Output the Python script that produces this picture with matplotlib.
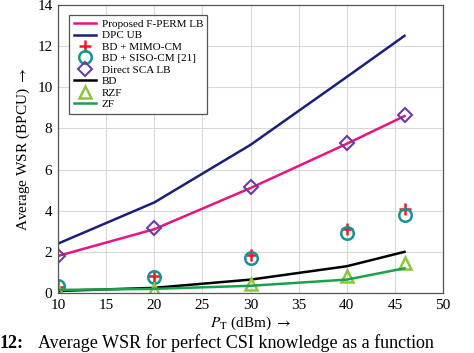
import matplotlib
matplotlib.use("Agg")
import matplotlib.pyplot as plt

plt.rcParams['font.family'] = ['Liberation Serif', 'DejaVu Serif']
plt.rcParams['mathtext.fontset'] = 'stix'

power = [10, 20, 30, 40, 46]
dpc_ub = [2.4, 4.4, 7.2, 10.5, 12.5]
fperm_lb = [1.8, 3.1, 5.1, 7.25, 8.6]
sca_lb = [1.8, 3.15, 5.15, 7.3, 8.65]
bd_mimo = [0.3, 0.85, 1.85, 3.1, 4.1]
bd_siso = [0.35, 0.8, 1.7, 2.9, 3.8]
bd = [0.1, 0.25, 0.65, 1.3, 2.0]
rzf = [0.1, 0.15, 0.45, 0.85, 1.45]
zf = [0.15, 0.2, 0.35, 0.65, 1.2]

fig = plt.figure(figsize=(4.74, 3.53), dpi=100)
ax = fig.add_axes([0.1224, 0.170, 0.8122, 0.816])

ax.plot(power, fperm_lb, color='#e6157f', lw=1.8, label='Proposed F-PERM LB')
ax.plot(power, dpc_ub, color='#1c1f7a', lw=1.8, label='DPC UB')
ax.plot(power, bd_mimo, ls='none', marker='+', ms=9, mew=1.8, color='#ee1c25', label='BD + MIMO-CM')
ax.plot(power, bd_siso, ls='none', marker='o', ms=9, mew=1.8, mfc='none', color='#13958e', label='BD + SISO-CM [21]')
ax.plot(power, sca_lb, ls='none', marker='D', ms=7, mew=1.5, mfc='none', color='#6a3ea0', label='Direct SCA LB')
ax.plot(power, bd, color='black', lw=1.8, label='BD')
ax.plot(power, rzf, ls='none', marker='^', ms=9, mew=1.8, mfc='none', color='#8cc63e', label='RZF')
ax.plot(power, zf, color='#1aa14a', lw=1.8, label='ZF')

ax.set_xlim(10, 50)
ax.set_ylim(0, 14)
ax.set_xticks(range(10, 51, 5))
ax.set_yticks(range(0, 15, 2))
ax.grid(True, color='#d8d8d8', lw=0.8)
ax.tick_params(direction='in', length=0, labelsize=11, pad=4)
for s in ax.spines.values():
    s.set_color('#555555')
    s.set_linewidth(0.9)

ax.set_xlabel(r'$P_{\mathrm{T}}$ (dBm) $\rightarrow$', fontsize=11, labelpad=2)
ax.set_ylabel(r'Average WSR (BPCU) $\rightarrow$', fontsize=11, labelpad=4)

leg = ax.legend(loc='upper left', bbox_to_anchor=(0.015, 0.985), fontsize=8,
                fancybox=False, framealpha=1, edgecolor='#555555',
                handlelength=2.0, handletextpad=0.5, labelspacing=0.15,
                borderpad=0.4)
leg.get_frame().set_linewidth(0.9)

fig.text(0.0, 0.002, '12:', fontsize=13, fontweight='bold', va='bottom')
fig.text(0.08, 0.002, 'Average WSR for perfect CSI knowledge as a function',
         fontsize=13, va='bottom')

fig.savefig('out.png', dpi=100)
